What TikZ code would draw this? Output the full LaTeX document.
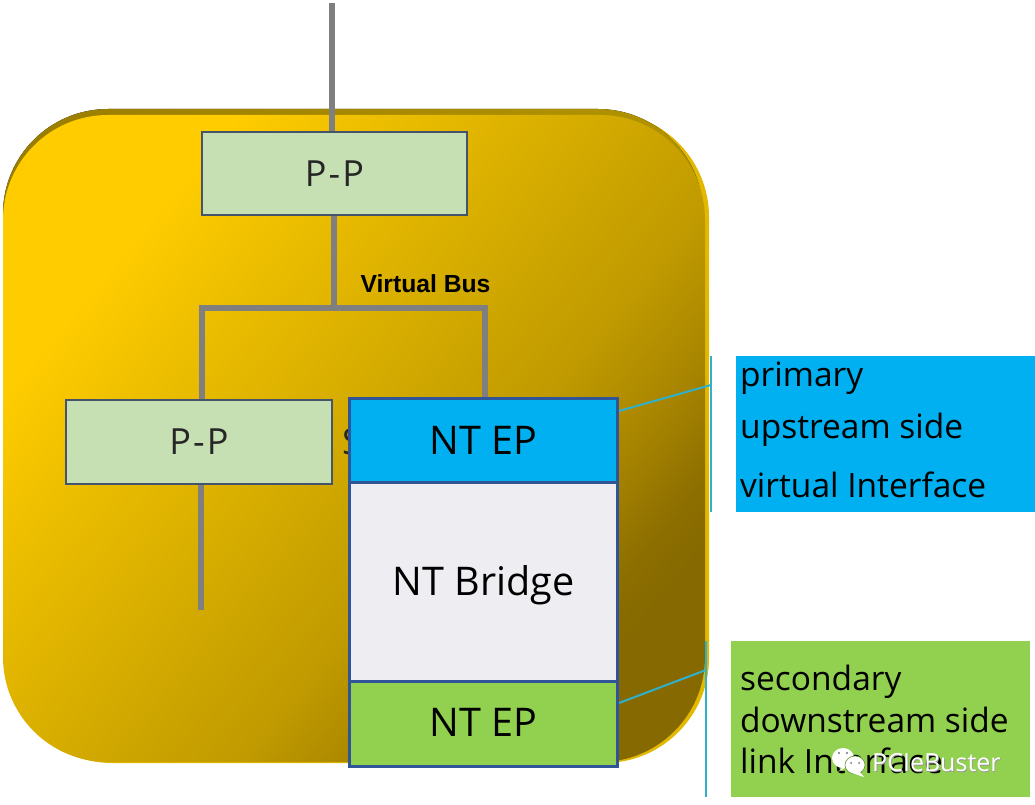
\documentclass[tikz,border=0pt]{standalone}
\usepackage{fontspec}
\setmainfont{Open Sans}
\newfontfamily\arialfont{Liberation Sans}
\definecolor{goldA}{HTML}{FFCC00}
\definecolor{gv25}{HTML}{866900}
\definecolor{gv28}{HTML}{8C6E00}
\definecolor{gv34}{HTML}{A88500}
\definecolor{gv41}{HTML}{C09A00}
\definecolor{gv51}{HTML}{D3AA00}
\definecolor{gv65}{HTML}{EFC000}
\definecolor{rimDark}{HTML}{9A7D00}
\definecolor{rimOlive}{HTML}{B29400}
\definecolor{rimGold}{HTML}{E3B800}
\definecolor{paleGreen}{HTML}{C6E0B4}
\definecolor{edgeBlue}{HTML}{44546A}
\definecolor{ntEdge}{HTML}{2F5597}
\definecolor{skyFill}{HTML}{00B0F0}
\definecolor{limeFill}{HTML}{92D050}
\definecolor{paleFill}{HTML}{EDEDF2}
\definecolor{wireGrey}{HTML}{7F7F7F}
\definecolor{leader}{HTML}{2FB0CC}
\pgfdeclareverticalshading{goldsweep}{100bp}{color(0bp)=(gv25); color(25bp)=(gv25); color(28bp)=(gv28); color(34bp)=(gv34); color(41bp)=(gv41); color(51bp)=(gv51); color(65bp)=(gv65); color(72bp)=(goldA); color(100bp)=(goldA)}
\tikzset{
  x=1pt,y=-1pt,
  ppbox/.style={draw=edgeBlue,line width=2pt,fill=paleGreen,inner sep=0pt,font=\fontsize{36}{42}\selectfont\addfontfeature{LetterSpace=6},text=black!85},
  ntpart/.style={draw=ntEdge,line width=3pt,inner sep=0pt,font=\fontsize{39.5}{46}\selectfont,text=black},
  wire/.style={draw=wireGrey,line width=5.5pt},
  leaderline/.style={draw=leader,line width=2pt},
  sidelabel/.style={anchor=west,inner sep=0pt,font=\fontsize{33.5}{40}\selectfont,text=black},
  sidebox/.style={inner sep=0pt},
  bodycorner/.style={rounded corners=105pt},
}
\begin{document}
\begin{tikzpicture}
\useasboundingbox (0,0) rectangle (1035,805);
% body
\fill[rimGold,bodycorner] (300,112) -- (709,112) -- (709,763) -- (7,763) -- (7,112) -- cycle;
\fill[left color=rimDark,right color=rimOlive,bodycorner] (300,109) -- (703,109) -- (703,400) -- (3,400) -- (3,109) -- cycle;
\shade[shading=goldsweep,shading angle=50,bodycorner] (300,115) -- (705,115) -- (705,762) -- (3,762) -- (3,115) -- cycle;
% hidden letter behind the NT EP box
\node[anchor=center,font=\fontsize{36}{42}\selectfont,text=black!85] (hidden) at (352,442) {S};
% boxes
\node[ppbox,minimum width=265pt,minimum height=83pt] (top) at (334.5,173.5) {P-P};
\node[ppbox,minimum width=266pt,minimum height=84pt] (left) at (199,442) {P-P};
\coordinate (topend) at (332,3);
\coordinate (busL) at (202,308);
\coordinate (busM) at (334,308);
\coordinate (busR) at (485,308);
\coordinate (leftend) at (201,610);
\node[anchor=center,font=\arialfont\bfseries\fontsize{24.7}{29}\selectfont] (vbus) at (425.5,284) {Virtual Bus};
\node[ntpart,fill=paleFill,minimum width=268pt,minimum height=199pt] (bridge) at (483.5,581.5) {\raisebox{-13.5pt}[0pt][0pt]{NT Bridge}};
\node[ntpart,fill=skyFill,minimum width=268pt,minimum height=84pt] (epu) at (483.5,440) {NT EP};
\node[ntpart,fill=limeFill,minimum width=268pt,minimum height=85pt] (epd) at (483.5,723.5) {\raisebox{-12.5pt}[0pt][0pt]{NT EP}};
% wires
\draw[wire] (topend) -- (top.north -| topend);
\draw[wire] (top.south -| busM) -- (busM);
\draw[wire,line join=miter] (left.north -| busL) -- (busL) -- (busR) -- (epu.north -| busR);
\draw[wire] (left.south -| leftend) -- (leftend);
% side labels
\node[sidebox,fill=skyFill,minimum width=299pt,minimum height=156pt] (blue) at (885.5,434) {};
\node[sidelabel] (b1) at (740,378) {primary};
\node[sidelabel] (b2) at (740,430) {upstream side};
\node[sidelabel] (b3) at (740,485) {virtual Interface};
\node[sidebox,fill=limeFill,minimum width=299pt,minimum height=156pt] (green) at (880.5,719) {};
\node[sidelabel] (g1) at (740,682) {secondary};
\node[sidelabel] (g2) at (740,720) {downstream side};
\node[sidelabel] (g3) at (740,761) {link Interface};
% leaders
\coordinate (bt) at (711,356); \coordinate (bb) at (711,512); \coordinate (bj) at (711,385);
\coordinate (gt) at (706,641); \coordinate (gb) at (706,797); \coordinate (gj) at (706,670);
\draw[leaderline] (bt) -- (bb);
\draw[leaderline] (gt) -- (gb);
\draw[leaderline] (epu.east |- 0,411) -- (bj);
\draw[leaderline] (epd.east |- 0,703) -- (gj);
% watermark
\fill[white] (843,758) ellipse [x radius=11pt,y radius=10pt];
\fill[white] (843,767) -- (838,772) -- (848,766) -- cycle;
\fill[white,draw=limeFill!70!black,line width=.6pt] (855,765) ellipse [x radius=10pt,y radius=9pt];
\fill[white] (860,772) -- (864,777) -- (852,773) -- cycle;
\fill[black!55] (839,753) circle (1.1pt) (847,753) circle (1.1pt) (851,763) circle (1pt) (859,763) circle (1pt);
\node[anchor=west,inner sep=0pt,font=\fontsize{25}{30}\selectfont,text=black!40] (wm0) at (872.8,763.8) {PCIeBuster};
\node[anchor=west,inner sep=0pt,font=\fontsize{25}{30}\selectfont,text=white] (wm) at (872,763) {PCIeBuster};
\end{tikzpicture}
\end{document}
